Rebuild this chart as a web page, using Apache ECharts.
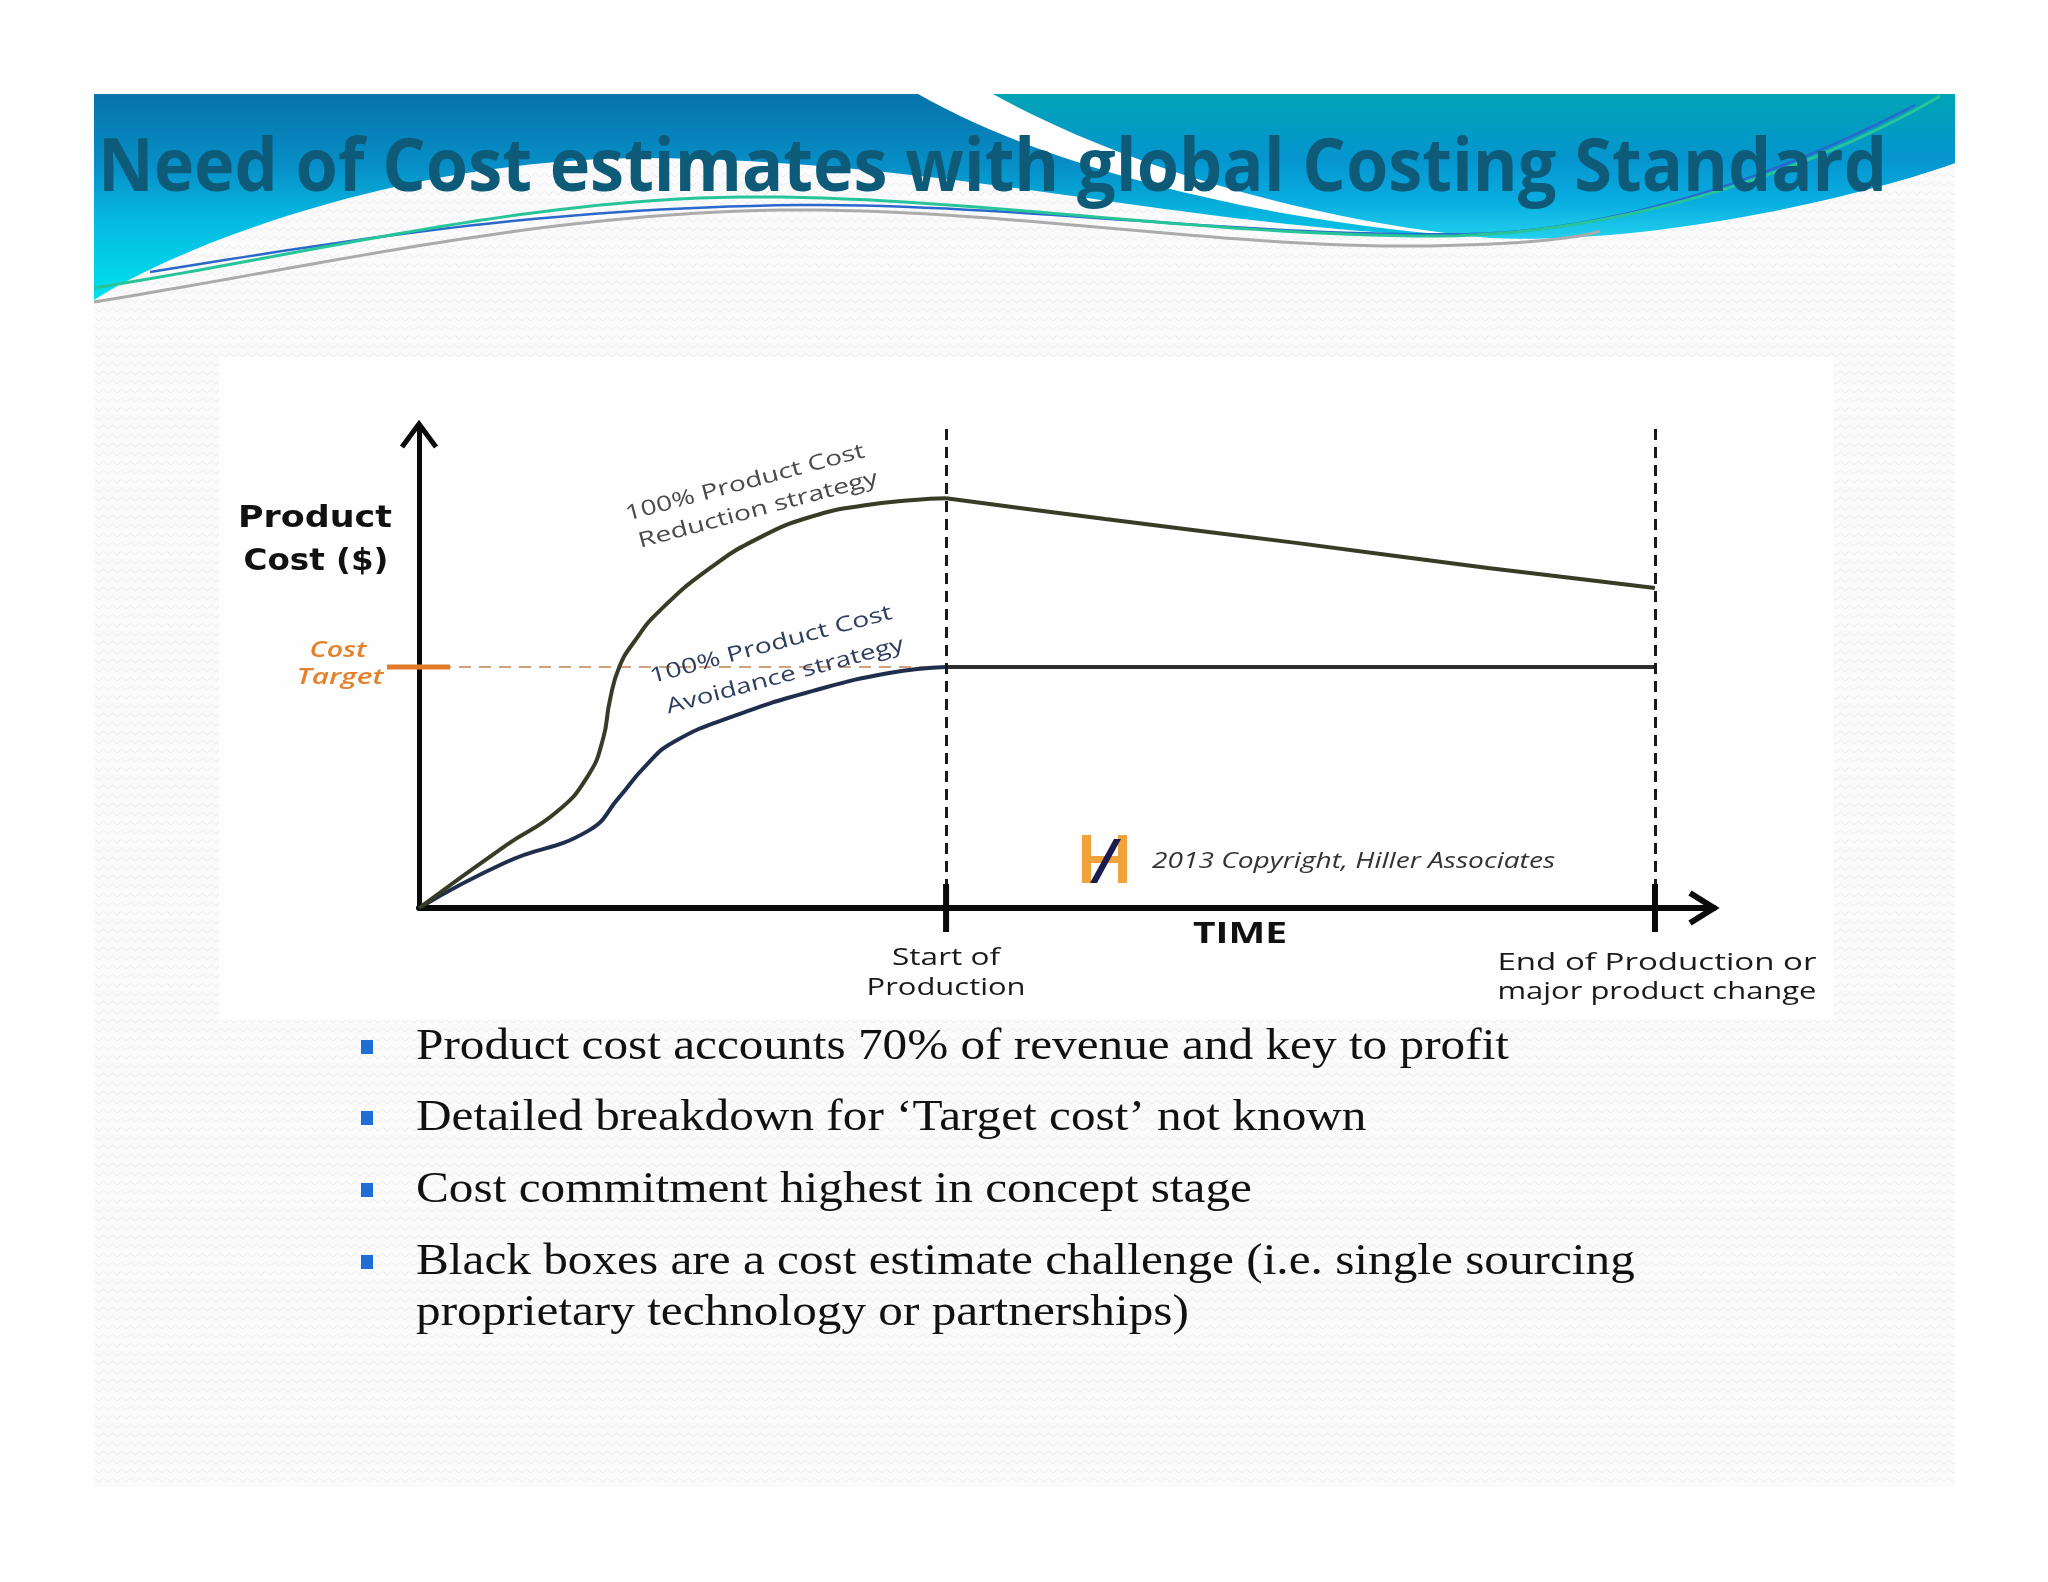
<!DOCTYPE html>
<html><head><meta charset="utf-8">
<script src="https://cdn.jsdelivr.net/npm/echarts@6/dist/echarts.min.js"></script>
<style>html,body{margin:0;padding:0;background:#fff}#c{width:2048px;height:1582px}</style>
</head><body><div id="c"></div>
<script>
// ---------- data ----------
const titleText = 'Need of Cost estimates with global Costing Standard';
const reductionRise = [[0,0],[1.65,26],[2.62,40],[3.21,55],[3.49,70],[3.62,86],[3.8,100],[4.1,111],[4.55,123],[5.52,141],[6.49,154],[7.46,162.5],[8.43,167],[9.39,169.3],[10,170]];
const reductionDecline = [[10,170],[13.02,161.4],[16.64,151.5],[20.28,141.1],[23.45,132.8]];
const avoidanceRise = [[0,0],[1.65,19],[3.21,32],[3.8,46],[4.3,59],[4.84,69],[6.02,80],[7.46,90],[8.92,97.5],[10,100]];
const avoidanceFlat = [[10,100],[23.45,100]];
const costTarget = 100;
const milestones = [10, 23.45];
const milestoneLabels = [['Start of','Production'],['End of Production or','major product change']];
const xMax = 24.57, yMax = 200;
const reductionLabel = ['100% Product Cost','Reduction strategy'];
const avoidanceLabel = ['100% Product Cost','Avoidance strategy'];
const yAxisName = ['Product','Cost ($)'];
const targetName = ['Cost','Target'];
const xAxisName = 'TIME';
const copyrightText = '2013 Copyright, Hiller Associates';
const bullets = [
  'Product cost accounts 70% of revenue and key to profit',
  'Detailed breakdown for \u2018Target cost\u2019 not known',
  'Cost commitment highest in concept stage',
  'Black boxes are a cost estimate challenge (i.e. single sourcing'
];
const bulletCont = 'proprietary technology or partnerships)';

// ---------- chart ----------
const chart = echarts.init(document.getElementById('c'));
const axisCommon = {axisTick:{show:false},axisLabel:{show:false},splitLine:{show:false}};
chart.setOption({
  animation:false,
  backgroundColor:'#ffffff',
  grid:{left:419, top:426, width:1295, height:482, containLabel:false},
  xAxis:Object.assign({type:'value',min:0,max:xMax,axisLine:{show:true,onZero:false,lineStyle:{color:'#0a0a0a',width:6}}},axisCommon),
  yAxis:Object.assign({type:'value',min:0,max:yMax,axisLine:{show:true,onZero:false,lineStyle:{color:'#0a0a0a',width:5}}},axisCommon),
  series:[
    {type:'line',name:'Cost Target',data:[[0,costTarget],[milestones[0],costTarget]],symbol:'none',silent:true,
     lineStyle:{color:'#cfa27c',width:2,type:[12,8]},z:1},
    {type:'line',name:'Avoidance',data:avoidanceFlat,symbol:'none',silent:true,lineStyle:{color:'#2d2d2d',width:4},
     markLine:{symbol:'none',silent:true,label:{show:false},emphasis:{disabled:true},
       lineStyle:{color:'#1a1a1a',width:3,type:[11,7]},data:milestones.map(m=>({xAxis:m}))}},
    {type:'line',name:'Avoidance rise',data:avoidanceRise,smooth:0.5,symbol:'none',silent:true,
     lineStyle:{color:'#1f2e4c',width:4}},
    {type:'line',name:'Reduction rise',data:reductionRise,smooth:0.5,symbol:'none',silent:true,
     lineStyle:{color:'#383b25',width:4}},
    {type:'line',name:'Reduction decline',data:reductionDecline,smooth:0.2,symbol:'none',silent:true,
     lineStyle:{color:'#383b25',width:4}}
  ]
});

// ---------- helpers ----------
const mctx = document.createElement('canvas').getContext('2d');
function T(text,o){
  const font = (o.style||'normal')+' '+(o.weight||'normal')+' '+o.size+'px '+o.family;
  mctx.font = font;
  const mw = mctx.measureText(text).width;
  const s = o.sx ? o.sx : (o.w ? o.w/mw : 1);
  const al = o.align||'center';
  return {type:'text',x:o.x,y:o.y,rotation:(o.rot||0)*Math.PI/180,scaleX:s,z:o.z||20,silent:true,
    style:{text:text,font:font,fill:o.fill||'#111',align:al,textAlign:al,verticalAlign:'middle',textVerticalAlign:'middle'}};
}
function scaleFor(text,size,family,weight,w){
  mctx.font='normal '+(weight||'normal')+' '+size+'px '+family; return w/mctx.measureText(text).width;
}
function bez(start,segs){
  const pts=[start.slice()]; let p=start;
  segs.forEach(s=>{
    for(let i=1;i<=32;i++){const t=i/32,u=1-t;
      pts.push([u*u*u*p[0]+3*u*u*t*s[0]+3*u*t*t*s[2]+t*t*t*s[4], u*u*u*p[1]+3*u*u*t*s[1]+3*u*t*t*s[3]+t*t*t*s[5]]);}
    p=[s[4],s[5]];
  });
  return pts;
}
// faint zig-zag texture
const pat = document.createElement('canvas'); pat.width=18; pat.height=9;
(function(){const c=pat.getContext('2d'); c.fillStyle='#fbfbfc'; c.fillRect(0,0,18,9);
  c.strokeStyle='#ececf1'; c.lineWidth=1; c.beginPath(); c.moveTo(0,6); c.lineTo(4.5,2); c.lineTo(9,6); c.lineTo(13.5,2); c.lineTo(18,6); c.stroke();})();

const P = (x,y)=>chart.convertToPixel({gridIndex:0},[x,y]);
const G = [];

// slide background
G.push({type:'rect',z:-5,silent:true,shape:{x:94,y:94,width:1861,height:1393},style:{fill:{image:pat,repeat:'repeat'}}});
G.push({type:'rect',z:-4,silent:true,shape:{x:219,y:357,width:1615,height:663},style:{fill:'#fefefe'}});

// header band
const bandA = [[94,94],[1955,94],[1955,163]].concat(bez([1955,163],[[1850,200,1650,245,1440,236],[1150,222,950,160,640,158],[400,160,180,245,94,300]]));
G.push({type:'polygon',z:-3,silent:true,shape:{points:bandA},
  style:{fill:new echarts.graphic.LinearGradient(0,0,0,1,[{offset:0,color:'#0772ab'},{offset:0.35,color:'#078fc7'},{offset:0.6,color:'#06b8e0'},{offset:1,color:'#00e2ee'}])}});
const bandC = [[993,94],[1955,94],[1955,163]].concat(bez([1955,163],[[1850,200,1650,245,1490,238],[1320,222,1130,170,993,94]]));
G.push({type:'polygon',z:-3,silent:true,shape:{points:bandC},
  style:{fill:new echarts.graphic.LinearGradient(0,0,0,1,[{offset:0,color:'#00a4b5'},{offset:0.45,color:'#0595cf'},{offset:0.75,color:'#09aee2'},{offset:1,color:'#22d0ec'}])}});
const swoosh = [[918,94]].concat(bez([993,94],[[1130,170,1320,222,1490,238],[1290,226,1060,175,918,94]]));
G.push({type:'polygon',z:-3,silent:true,shape:{points:swoosh},style:{fill:'#ffffff'}});
G.push({type:'polyline',z:-2,silent:true,shape:{points:bez([94,302],[[340,262,540,214,780,210],[1000,208,1220,248,1420,246],[1520,245,1580,238,1600,231]])},style:{fill:'none',stroke:'#ababab',lineWidth:3}});
G.push({type:'polyline',z:-2,silent:true,shape:{points:bez([150,272],[[350,240,540,208,800,205],[1020,204,1250,238,1470,234],[1650,230,1830,150,1915,105]])},style:{fill:'none',stroke:'#2a68cc',lineWidth:2.5}});
G.push({type:'polyline',z:-2,silent:true,shape:{points:bez([94,288],[[320,252,520,200,740,197],[960,195,1200,236,1437,236],[1650,235,1850,150,1940,96]])},style:{fill:'none',stroke:'#27c49a',lineWidth:3}});

// title
G.push(T(titleText,{x:98,y:170,size:73,family:'"Open Sans"',weight:'bold',w:1789,align:'left',fill:'#0e5b79',z:5}));

// axis arrows
const xe = P(xMax,0), ye = P(0,yMax);
G.push({type:'polyline',z:30,silent:true,shape:{points:[[xe[0]-24,xe[1]-15],[xe[0],xe[1]],[xe[0]-24,xe[1]+15]]},style:{stroke:'#0a0a0a',lineWidth:6,fill:'none'}});
G.push({type:'polyline',z:30,silent:true,shape:{points:[[ye[0]-17,ye[1]+21],[ye[0],ye[1]-2],[ye[0]+17,ye[1]+21]]},style:{stroke:'#0a0a0a',lineWidth:5,fill:'none'}});
milestones.forEach(m=>{const p=P(m,0);G.push({type:'line',z:30,silent:true,shape:{x1:p[0],y1:p[1]-24,x2:p[0],y2:p[1]+24},style:{stroke:'#0a0a0a',lineWidth:6}});});
const ct = P(0,costTarget);
G.push({type:'line',z:30,silent:true,shape:{x1:ct[0]-32,y1:ct[1],x2:ct[0]+31,y2:ct[1]},style:{stroke:'#e07b28',lineWidth:5}});

// axis texts
G.push(T(yAxisName[0],{x:315,y:519,size:30,family:'"DejaVu Sans"',weight:'bold',w:154,fill:'#111'}));
G.push(T(yAxisName[1],{x:316,y:562,size:30,family:'"DejaVu Sans"',weight:'bold',w:145,fill:'#111'}));
G.push(T(targetName[0],{x:338,y:ct[1]-16,size:21,family:'"Open Sans"',style:'italic',weight:600,w:57,fill:'#e4812c'}));
G.push(T(targetName[1],{x:340,y:ct[1]+11,size:21,family:'"Open Sans"',style:'italic',weight:600,w:87,fill:'#e4812c'}));
G.push(T(xAxisName,{x:1240,y:935,size:28,family:'"Open Sans"',weight:'bold',w:94,fill:'#111'}));
const mlW = [[108,159],[319,319]];
milestones.forEach((m,i)=>{const p=P(m,0);
  G.push(T(milestoneLabels[i][0],{x:p[0]+(i?2:0),y:p[1]+50+(i?5:0),size:24,family:'"Open Sans"',w:mlW[i][0],fill:'#1a1a1a'}));
  G.push(T(milestoneLabels[i][1],{x:p[0]+(i?2:0),y:p[1]+80+(i?4:0),size:24,family:'"Open Sans"',w:mlW[i][1],fill:'#1a1a1a'}));
});
G.push(T(reductionLabel[0],{x:745,y:483,size:21,family:'"Open Sans"',w:247,rot:15,fill:'#4a4a4a'}));
G.push(T(reductionLabel[1],{x:758,y:510,size:21,family:'"Open Sans"',w:247,rot:15,fill:'#4a4a4a'}));
G.push(T(avoidanceLabel[0],{x:771,y:645,size:21,family:'"Open Sans"',w:250,rot:15,fill:'#2f3e5e'}));
G.push(T(avoidanceLabel[1],{x:785,y:676,size:21,family:'"Open Sans"',w:245,rot:15,fill:'#2f3e5e'}));

// logo + copyright
G.push({type:'rect',z:25,silent:true,shape:{x:1082,y:835,width:9,height:48},style:{fill:'#f2a23a'}});
G.push({type:'rect',z:25,silent:true,shape:{x:1118,y:835,width:9,height:48},style:{fill:'#f2a23a'}});
G.push({type:'rect',z:25,silent:true,shape:{x:1082,y:856,width:45,height:7},style:{fill:'#f2a23a'}});
G.push({type:'polygon',z:26,silent:true,shape:{points:[[1114,839],[1121,839],[1097,883],[1090,883]]},style:{fill:'#1b1b4f'}});
G.push(T(copyrightText,{x:1152,y:862,size:21,family:'"Open Sans"',style:'italic',w:403,align:'left',fill:'#333'}));

// bullets
const bs = scaleFor(bullets[0],45,'"Liberation Serif"','normal',1093);
const by = [1047,1118,1190,1262];
bullets.forEach((b,i)=>{
  G.push({type:'rect',z:20,silent:true,shape:{x:361,y:by[i]-7,width:12,height:14},style:{fill:'#1d6fd6'}});
  G.push(T(b,{x:416,y:by[i],size:45,family:'"Liberation Serif"',sx:bs,align:'left',fill:'#111'}));
});
G.push(T(bulletCont,{x:416,y:1313,size:45,family:'"Liberation Serif"',sx:bs,align:'left',fill:'#111'}));

chart.setOption({graphic:{elements:G}});
</script></body></html>
